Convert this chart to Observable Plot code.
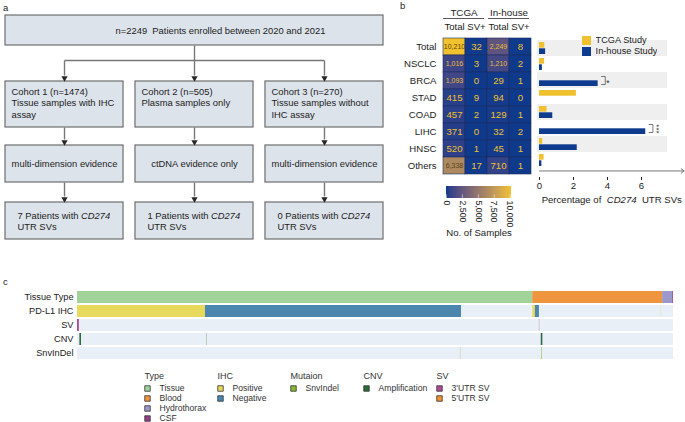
<!DOCTYPE html>
<html><head><meta charset="utf-8">
<script src="https://cdn.jsdelivr.net/npm/d3@7"></script>
<script src="https://cdn.jsdelivr.net/npm/@observablehq/plot@0.6"></script>
<style>
html,body{margin:0;padding:0;background:#fff;}
#fig{position:relative;width:685px;height:422px;overflow:hidden;font-family:"Liberation Sans",Arial,Helvetica,sans-serif;color:#222;}
.pane{position:absolute;}
.plabel{position:absolute;font-size:9.5px;line-height:1;}
</style></head><body><div id="fig"></div>
<script>
// ---------------- DATA ----------------
const enrolledN = 2249;
const enrolledText = "n=2249  Patients enrolled between 2020 and 2021";
const cohortTexts = ["Cohort 1 (n=1474)\nTissue samples with IHC\nassay", "Cohort 2 (n=505)\nPlasma samples only", "Cohort 3 (n=270)\nTissue samples without\nIHC assay"];
const evidenceTexts = ["multi-dimension evidence", "ctDNA evidence only", "multi-dimension evidence"];
const svPatients = [7, 1, 0];

const cancerTypes = ["Total", "NSCLC", "BRCA", "STAD", "COAD", "LIHC", "HNSC", "Others"];
const tcgaTotal = [10210, 1016, 1093, 415, 457, 371, 520, 6338];
const tcgaSVpos = [32, 3, 0, 9, 2, 0, 1, 17];
const inhouseTotal = [2249, 1210, 29, 94, 129, 32, 45, 710];
const inhouseSVpos = [8, 2, 1, 0, 1, 2, 1, 1];
const tcgaPct = [0.31, 0.30, 0, 2.17, 0.44, 0, 0.19, 0.27];
const inhousePct = [0.36, 0.17, 3.45, 0, 0.78, 6.25, 2.22, 0.14];
const sigTypes = ["BRCA", "LIHC"];
const sigLabels = ["*", "***"];
const colorTicks = [0, 2500, 5000, 7500, 10000];
const pctTicks = [0, 2, 4, 6];
const studyLabels = ["TCGA Study", "In-house Study"];

const trackNames = ["Tissue Type", "PD-L1 IHC", "SV", "CNV", "SnvInDel"];
const tissueRuns = [["Tissue", 1718], ["Blood", 490], ["Hydrothorax", 38], ["CSF", 3]];
const ihcRuns = [["Positive", 483], ["Negative", 966], [null, 269], ["Positive", 10], ["Negative", 15], [null, 460], ["Positive", 1], [null, 45]];
const svRuns = [["3'UTR SV", 7], [null, 1736], ["3'UTR SV", 1], [null, 505]];
const cnvRuns = [[null, 9], ["Amplification", 6], [null, 472], ["Amplification", 1], [null, 1262], ["Amplification", 6], [null, 493]];
const snvRuns = [[null, 1445], ["SnvIndel", 1], [null, 305], ["SnvIndel", 2], [null, 496]];
const legendGroups = ["Type", "IHC", "Mutaion", "CNV", "SV"];
const legendEntries = [["Type", "Tissue"], ["Type", "Blood"], ["Type", "Hydrothorax"], ["Type", "CSF"], ["IHC", "Positive"], ["IHC", "Negative"], ["Mutaion", "SnvIndel"], ["CNV", "Amplification"], ["SV", "3'UTR SV"], ["SV", "5'UTR SV"]];

// ---------------- STYLE ----------------
const FONT = '"Liberation Sans", Arial, Helvetica, sans-serif';
const YELLOW = "#efc12f", BLUE = "#0e3b8e";
const catColor = {Tissue: "#a1d29a", Blood: "#f0953f", Hydrothorax: "#9d98cb", CSF: "#8e3f86",
  Positive: "#e7d95c", Negative: "#4a86ad", SnvIndel: "#86b832", Amplification: "#2c6a3b",
  "3'UTR SV": "#b04a95", "5'UTR SV": "#f0922e"};
const fig = document.getElementById("fig");
function place(node, left, top) {
  const d = document.createElement("div"); d.className = "pane";
  d.style.left = left + "px"; d.style.top = top + "px";
  d.appendChild(node); fig.appendChild(d); return d;
}
function label(t, left, top) {
  const d = document.createElement("div"); d.className = "plabel";
  d.style.left = left + "px"; d.style.top = top + "px"; d.textContent = t; fig.appendChild(d);
}
const baseStyle = fs => ({fontFamily: FONT, fontSize: fs + "px", background: "transparent", overflow: "visible", color: "#222"});

// ---------------- PANEL A: flowchart ----------------
const colGap = 0.092, boxW = 1 - colGap;
const L = {top: [15, 45], junction: 60, cohort: [81, 127], evidence: [145, 182], final: [202, 239]};
const cols = cohortTexts.map((t, i) => ({i, cohort: t, evidence: evidenceTexts[i],
  final: `${svPatients[i]} Patients with CD274\nUTR SVs`}));
const levels = ["cohort", "evidence", "final"];
const boxes = levels.flatMap(lv => cols.map(c => ({i: c.i, y1: L[lv][0], y2: L[lv][1]})));
const arrowsA = [
  ...cols.map(c => ({x: c.i + boxW / 2, y1: L.junction, y2: L.cohort[0]})),
  ...cols.map(c => ({x: c.i + boxW / 2, y1: L.cohort[1], y2: L.evidence[0]})),
  ...cols.map(c => ({x: c.i + boxW / 2, y1: L.evidence[1], y2: L.final[0]}))];
const headH = 7;
const boxStyle = {fill: "#dde3eb", stroke: "#6e6e6e", strokeWidth: 1.2};
const plotA = Plot.plot({
  width: 390, height: 245, marginLeft: 5, marginRight: 7, marginTop: 0, marginBottom: 0,
  x: {domain: [0, 3 - colGap], axis: null},
  y: {domain: [0, 245], range: [0, 245], axis: null},
  style: baseStyle(9.4),
  marks: [
    Plot.rect([enrolledText], {x1: 0, x2: 3 - colGap, y1: L.top[0], y2: L.top[1], ...boxStyle}),
    Plot.rect(boxes, {x1: "i", x2: d => d.i + boxW, y1: "y1", y2: "y2", ...boxStyle}),
    Plot.link([enrolledText], {x1: 1 + boxW / 2, x2: 1 + boxW / 2, y1: L.top[1], y2: L.junction, stroke: "#777", strokeWidth: 1.4}),
    Plot.link([enrolledText], {x1: boxW / 2, x2: 2 + boxW / 2, y1: L.junction, y2: L.junction, stroke: "#777", strokeWidth: 1.4}),
    Plot.link(arrowsA, {x1: "x", x2: "x", y1: "y1", y2: d => d.y2 - headH + 1, stroke: "#777", strokeWidth: 1.4}),
    Plot.dot(arrowsA, {x: "x", y: d => d.y2 - headH / 2, symbol: "triangle2", rotate: 180, r: 3, fill: "#262626", stroke: "none"}),
    Plot.text([enrolledText], {x: (3 - colGap) / 2, y: (L.top[0] + L.top[1]) / 2, dx: 26, text: d => d, fill: "#222"}),
    Plot.text(cols, {x: "i", y: L.cohort[0] + 5, dx: 6, text: "cohort", textAnchor: "start", lineAnchor: "top", lineHeight: 1.22, fill: "#222"}),
    Plot.text(cols, {x: d => d.i + boxW / 2, y: (L.evidence[0] + L.evidence[1]) / 2, text: "evidence", fill: "#222"}),
    Plot.text(cols, {x: "i", y: (L.final[0] + L.final[1]) / 2, dx: 12, text: "final", textAnchor: "start", lineHeight: 1.2, fill: "#222"})
  ]
});
place(plotA, 0, 0);
label("a", 3, 3);

// ---------------- PANEL B: heatmap ----------------
const hmCols = ["TCGA Total", "TCGA SV+", "In-house Total", "In-house SV+"];
const hmSeries = [tcgaTotal, tcgaSVpos, inhouseTotal, inhouseSVpos];
const cells = cancerTypes.flatMap((r, j) => hmCols.map((c, k) => ({row: r, col: c, value: hmSeries[k][j]})));
const colorScale = {type: "linear", domain: [0, 10210], range: ["#0f3a8c", "#f2c12e"], interpolate: "lab"};
const fmt = d3.format(",");
const groups = ["TCGA", "In-house"];

const plotHead = Plot.plot({
  width: 150, height: 22, marginLeft: 57, marginRight: 4, marginTop: 0, marginBottom: 0,
  x: {type: "band", domain: groups, paddingInner: 0.08, paddingOuter: 0.02, axis: null},
  y: {domain: [0, 1], range: [18, 0], axis: null},
  style: baseStyle(9.8),
  marks: [
    Plot.tickY(groups, {x: d => d, y: 0, stroke: "#444", strokeWidth: 0.9}),
    Plot.text(groups, {x: d => d, y: 0, dy: -6, text: d => d, fill: "#222"})
  ]
});
place(plotHead, 385, 0);

const plotHM = Plot.plot({
  width: 150, height: 178, marginLeft: 57, marginRight: 4, marginTop: 36, marginBottom: 2,
  style: baseStyle(9.6),
  x: {domain: hmCols, padding: 0, axis: "top", tickSize: 0, tickPadding: 7, tickFormat: d => d.split(" ")[1], label: null},
  y: {domain: cancerTypes, padding: 0, tickSize: 0, tickPadding: 6, label: null},
  color: colorScale,
  marks: [
    Plot.cell(cells, {x: "col", y: "row", fill: "value", stroke: "#1d2c60", strokeWidth: 0.6}),
    Plot.text(cells.filter(d => d.value >= 1000 && d.value <= 5000), {x: "col", y: "row", text: d => fmt(d.value), fill: "#e9bf35", fontSize: 7}),
    Plot.text(cells.filter(d => d.value > 5000), {x: "col", y: "row", text: d => fmt(d.value), fill: "#5a4512", fontSize: 7}),
    Plot.text(cells.filter(d => d.value < 1000), {x: "col", y: "row", text: d => fmt(d.value), fill: "#f0c12c", fontSize: 9.6})
  ]
});
place(plotHM, 385, 0);
label("b", 400, 1);

const rampStep = 100;
const ramp = d3.range(0, 10210, rampStep);
const plotCB = Plot.plot({
  width: 150, height: 62, marginLeft: 61, marginRight: 24, marginTop: 6, marginBottom: 44,
  style: baseStyle(8.8),
  x: {domain: [0, 10210], ticks: colorTicks, tickFormat: d => fmt(d), tickRotate: 90, tickSize: 0, tickPadding: 2, label: null},
  y: {domain: [0, 1], axis: null},
  color: colorScale,
  marks: [
    Plot.rect(ramp, {x1: d => d, x2: d => Math.min(d + rampStep, 10210), y1: 0, y2: 1, fill: d => d, shapeRendering: "crispEdges"}),
    Plot.ruleX(colorTicks, {x: d => d, y1: 0, y2: 0.3, stroke: "white", strokeOpacity: 0.5}),
    Plot.text(["No. of Samples"], {frameAnchor: "bottom", dy: 37, text: d => d, fill: "#222", fontSize: 9.6})
  ]
});
place(plotCB, 385, 180);

// ---------------- PANEL B: bars ----------------
const studies = ["TCGA", "In-house"];
const barKeys = cancerTypes.flatMap(r => studies.map(s => r + "|" + s));
const bars = cancerTypes.flatMap((r, j) => [{row: r, study: "TCGA", pct: tcgaPct[j]}, {row: r, study: "In-house", pct: inhousePct[j]}]);
const shaded = barKeys.filter(k => cancerTypes.indexOf(k.split("|")[0]) % 2 === 0);
const barTop = 33, barBottom = 175, bandPx = (barBottom - barTop) / barKeys.length;
const pctMax = 8.5;
const sig = sigTypes.map((t, k) => { const j = cancerTypes.indexOf(t); return {row: t, label: sigLabels[k], top: Math.max(tcgaPct[j], inhousePct[j])}; });
const bracketPts = sig.flatMap(s => { const a = s.top + 0.2, b = s.top + 0.42;
  return [{row: s.row, x: a, y: s.row + "|TCGA"}, {row: s.row, x: b, y: s.row + "|TCGA"}, {row: s.row, x: b, y: s.row + "|In-house"}, {row: s.row, x: a, y: s.row + "|In-house"}]; });
const lastKey = barKeys[barKeys.length - 1];
const plotBar = Plot.plot({
  width: 155, height: 205, marginLeft: 9, marginRight: 1.5, marginTop: barTop, marginBottom: 28,
  style: baseStyle(9.6),
  x: {domain: [0, pctMax], ticks: pctTicks, tickSize: 3, tickPadding: 2, label: "Percentage of  CD274  UTR SVs", labelAnchor: "center", labelOffset: 25, labelArrow: "none"},
  y: {domain: barKeys, padding: 0, axis: null, insetBottom: 2},
  marks: [
    Plot.barX(shaded, {x1: 0, x2: 7.5, y: d => d, insetLeft: -2, fill: "#efefef", shapeRendering: "crispEdges"}),
    Plot.barX(bars.filter(d => d.study === "TCGA"), {x: "pct", y: d => d.row + "|" + d.study, fill: YELLOW, insetTop: 2, insetBottom: 0.3}),
    Plot.barX(bars.filter(d => d.study === "In-house"), {x: "pct", y: d => d.row + "|" + d.study, fill: BLUE, insetTop: 0.3, insetBottom: 2}),
    Plot.line(bracketPts, {x: "x", y: "y", z: "row", stroke: "#555", strokeWidth: 0.8}),
    Plot.text(sig.filter(s => s.label.length === 1), {x: s => s.top + 0.58, y: s => s.row + "|TCGA", dy: bandPx / 2 + 2, text: "label", fontSize: 8.5, fill: "#333"}),
    Plot.text(sig.filter(s => s.label.length > 1), {x: s => s.top + 0.62, y: s => s.row + "|TCGA", dy: bandPx / 2, text: "label", rotate: 90, fontSize: 8, fill: "#333"}),
    Plot.arrow([lastKey], {x1: 0, x2: pctMax, y1: d => d, y2: d => d, dy: bandPx / 2 + 2, headLength: 6, headAngle: 80, stroke: "#666", strokeWidth: 0.9})
  ]
});
place(plotBar, 530, 0);

const legB = Plot.legend({color: {domain: studyLabels, range: [YELLOW, BLUE]}, legend: "swatches", swatchSize: 9, columns: 1,
  style: {fontFamily: FONT, fontSize: "9.2px", color: "#222", background: "transparent"}});
place(legB, 582, 35);

// ---------------- PANEL C: tracks ----------------
function runsToSegs(track, runs) { let s = 0; const out = [];
  for (const [cat, n] of runs) { if (cat) out.push({track, cat, start: s, end: s + n}); s += n; } return out; }
const segs = [...runsToSegs("Tissue Type", tissueRuns), ...runsToSegs("PD-L1 IHC", ihcRuns),
  ...runsToSegs("SV", svRuns), ...runsToSegs("CNV", cnvRuns), ...runsToSegs("SnvInDel", snvRuns)];
const plotC = Plot.plot({
  width: 685, height: 80, marginLeft: 77, marginRight: 12, marginTop: 10, marginBottom: 0,
  style: baseStyle(9.2),
  x: {domain: [0, enrolledN], axis: null},
  y: {domain: trackNames, paddingInner: 0.15, paddingOuter: 0, tickSize: 0, tickPadding: 4, label: null},
  marks: [
    Plot.barX(trackNames, {x1: 0, x2: enrolledN, y: d => d, fill: "#e9eff7"}),
    Plot.barX(segs, {x1: "start", x2: "end", y: "track", fill: d => catColor[d.cat]})
  ]
});
place(plotC, 0, 280);
label("c", 3, 277);

const legendData = legendEntries.map(([g, lab]) => ({group: g, label: lab, idx: legendEntries.filter(e => e[0] === g).findIndex(e => e[1] === lab)}));
const plotLeg = Plot.plot({
  width: 685, height: 57, marginLeft: 0, marginRight: 0, marginTop: 0, marginBottom: 0,
  style: baseStyle(8.6),
  x: {type: "point", domain: legendGroups, range: [107, 473], axis: null},
  y: {domain: [0, 3], range: [23, 53], axis: null},
  marks: [
    Plot.text(legendGroups, {x: d => d, y: 0, dy: -12, text: d => d, textAnchor: "start", fontSize: 9, fill: "#333"}),
    Plot.dot(legendData, {x: "group", y: "idx", dx: 3, symbol: "square", r: 3.1, fill: d => catColor[d.label], stroke: "#333", strokeWidth: 0.8}),
    Plot.text(legendData, {x: "group", y: "idx", dx: 15, text: "label", textAnchor: "start", fill: "#333"})
  ]
});
place(plotLeg, 0, 365);

// ---------------- italic gene name ----------------
(function italicize(root) {
  const walker = document.createTreeWalker(root, NodeFilter.SHOW_TEXT);
  const nodes = [];
  while (walker.nextNode()) if (walker.currentNode.nodeValue.includes("CD274")) nodes.push(walker.currentNode);
  for (const node of nodes) {
    const parent = node.parentNode;
    const isSvg = parent.namespaceURI === "http://www.w3.org/2000/svg";
    const parts = node.nodeValue.split("CD274");
    const frag = document.createDocumentFragment();
    parts.forEach((p, i) => {
      if (i) {
        const t = isSvg ? document.createElementNS("http://www.w3.org/2000/svg", "tspan") : document.createElement("i");
        if (isSvg) t.setAttribute("font-style", "italic");
        t.textContent = "CD274"; frag.appendChild(t);
      }
      if (p) frag.appendChild(document.createTextNode(p));
    });
    parent.replaceChild(frag, node);
  }
})(fig);
document.querySelectorAll("#fig svg").forEach(s => s.setAttribute("xml:space", "preserve"));
</script>
</body></html>
